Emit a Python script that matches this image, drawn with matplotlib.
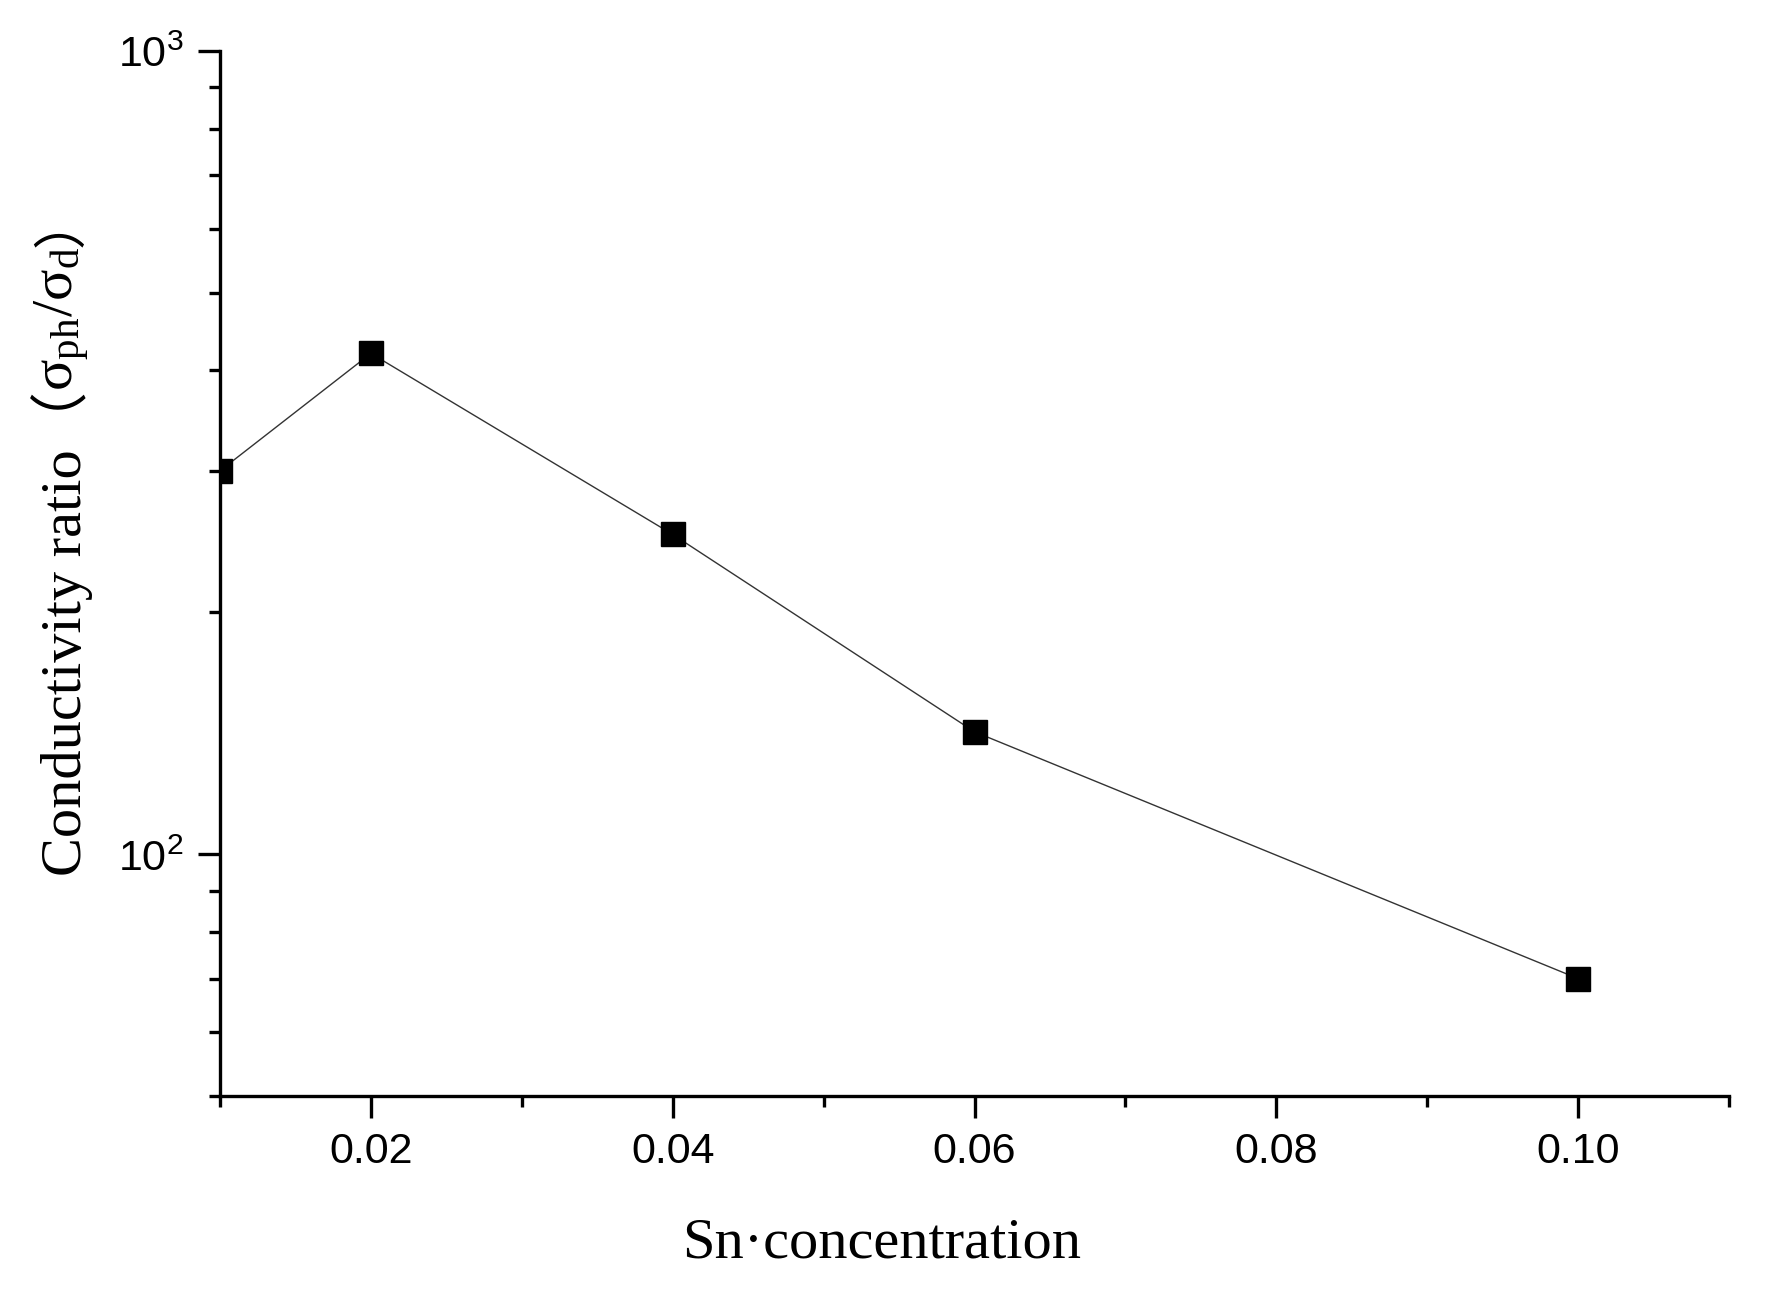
import matplotlib
matplotlib.use("Agg")
import matplotlib.pyplot as plt
from matplotlib.ticker import FixedLocator, NullFormatter

# Data
sn_conc = [0.01, 0.02, 0.04, 0.06, 0.10]
cond_ratio = [300, 420, 250, 142, 70]

x_ticks = [0.02, 0.04, 0.06, 0.08, 0.10]
x_tick_labels = ["0.02", "0.04", "0.06", "0.08", "0.10"]
x_minor = [0.01, 0.03, 0.05, 0.07, 0.09, 0.11]
y_ticks = [100, 1000]
y_tick_labels = [r"$\mathsf{10^{2}}$", r"$\mathsf{10^{3}}$"]
y_minor = [50, 60, 70, 80, 90, 200, 300, 400, 500, 600, 700, 800, 900]

plt.rcParams['mathtext.fontset'] = 'custom'
plt.rcParams['mathtext.rm'] = 'Liberation Serif'
plt.rcParams['mathtext.it'] = 'Liberation Serif:italic'
plt.rcParams['mathtext.sf'] = 'Liberation Sans'

W, H = 1768, 1289
fig = plt.figure(figsize=(W / 100, H / 100), dpi=100)
ax = fig.add_axes([220 / W, 1 - 1096 / H, (1729 - 220) / W, (1096 - 50.7) / H])

ax.plot(sn_conc, cond_ratio, color='#333333', lw=1.0, marker='s',
        markersize=17, markerfacecolor='black', markeredgecolor='black')

ax.set_yscale('log')
ax.set_xlim(0.01, 0.11)
ax.set_ylim(50, 1000)

for s in ['top', 'right']:
    ax.spines[s].set_visible(False)
for s in ['left', 'bottom']:
    ax.spines[s].set_linewidth(2.4)

ax.xaxis.set_major_locator(FixedLocator(x_ticks))
ax.set_xticklabels(x_tick_labels)
ax.xaxis.set_minor_locator(FixedLocator(x_minor))
ax.yaxis.set_major_locator(FixedLocator(y_ticks))
ax.set_yticklabels(y_tick_labels)
ax.yaxis.set_minor_locator(FixedLocator(y_minor))
ax.yaxis.set_minor_formatter(NullFormatter())

ax.tick_params(which='major', direction='out', length=16, width=2.4, pad=10)
ax.tick_params(which='minor', direction='out', length=8, width=2.4)
for lab in ax.get_xticklabels():
    lab.set_fontfamily('Liberation Sans')
    lab.set_fontsize(31)
for lab in ax.get_yticklabels():
    lab.set_fontsize(31)

# x label
fig.text(882 / W, 1 - 1244 / H, "Sn·concentration", family='Liberation Serif',
         fontsize=42, ha='center', va='center')

# y label built from pieces stacked along the vertical
# (full-width parentheses need a CJK fallback font)
fam = ['Liberation Serif', 'Noto Sans CJK SC']
pieces = [("Conductivity ratio（", fam, 42),
          (r"$\mathrm{σ_{ph}/σ_{d}}$", fam, 42),
          ("）", 'Noto Sans CJK SC', 38)]
fig.canvas.draw()
renderer = fig.canvas.get_renderer()
xc = 62 / W
y0 = 1 - 876 / H
for p, f, fs in pieces:
    t = fig.text(xc, y0, p, family=f, fontsize=fs, rotation=90,
                 ha='center', va='bottom')
    bb = t.get_window_extent(renderer=renderer)
    y0 += bb.height / H

fig.savefig("out.png", dpi=100)
